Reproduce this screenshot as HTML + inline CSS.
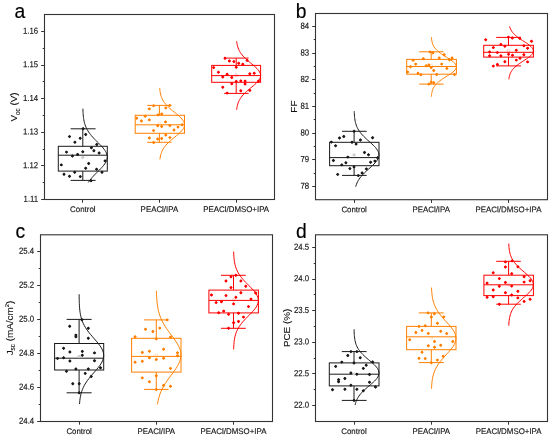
<!DOCTYPE html><html><head><meta charset="utf-8"><style>html,body{margin:0;padding:0;background:#fff;}svg{display:block;filter:blur(0.3px);}text{font-family:"Liberation Sans",Arial,sans-serif;}.t{stroke:#111;stroke-width:0.12px;}</style></head><body>
<svg width="550" height="439" viewBox="0 0 550 439">
<rect width="550" height="439" fill="#fff"/>
<g><text x="14.4" y="18.2" font-size="19.3" fill="#000" stroke="#000" stroke-width="0.15">a</text><text transform="translate(17.3,107) rotate(-90)" text-anchor="middle" font-size="9.9" fill="#111" class="t">V<tspan font-size="6.3" dy="2.4">oc</tspan><tspan dy="-2.4"> (V)</tspan></text><line x1="41.2" y1="199.5" x2="44.5" y2="199.5" stroke="#333333" stroke-width="1"/><text transform="translate(38.2,201.75) rotate(0.05) scale(1,1.12)" font-size="7.8" text-anchor="end" fill="#111" class="t">1.11</text><line x1="41.2" y1="165.5" x2="44.5" y2="165.5" stroke="#333333" stroke-width="1"/><text transform="translate(38.2,168.15) rotate(0.05) scale(1,1.12)" font-size="7.8" text-anchor="end" fill="#111" class="t">1.12</text><line x1="41.2" y1="132.5" x2="44.5" y2="132.5" stroke="#333333" stroke-width="1"/><text transform="translate(38.2,134.55) rotate(0.05) scale(1,1.12)" font-size="7.8" text-anchor="end" fill="#111" class="t">1.13</text><line x1="41.2" y1="98.5" x2="44.5" y2="98.5" stroke="#333333" stroke-width="1"/><text transform="translate(38.2,100.95) rotate(0.05) scale(1,1.12)" font-size="7.8" text-anchor="end" fill="#111" class="t">1.14</text><line x1="41.2" y1="65.5" x2="44.5" y2="65.5" stroke="#333333" stroke-width="1"/><text transform="translate(38.2,67.35) rotate(0.05) scale(1,1.12)" font-size="7.8" text-anchor="end" fill="#111" class="t">1.15</text><line x1="41.2" y1="31.5" x2="44.5" y2="31.5" stroke="#333333" stroke-width="1"/><text transform="translate(38.2,33.75) rotate(0.05) scale(1,1.12)" font-size="7.8" text-anchor="end" fill="#111" class="t">1.16</text><line x1="42.7" y1="182.5" x2="44.5" y2="182.5" stroke="#333333" stroke-width="1"/><line x1="42.7" y1="149.5" x2="44.5" y2="149.5" stroke="#333333" stroke-width="1"/><line x1="42.7" y1="115.5" x2="44.5" y2="115.5" stroke="#333333" stroke-width="1"/><line x1="42.7" y1="81.5" x2="44.5" y2="81.5" stroke="#333333" stroke-width="1"/><line x1="42.7" y1="48.5" x2="44.5" y2="48.5" stroke="#333333" stroke-width="1"/><line x1="82.5" y1="199.5" x2="82.5" y2="202.7" stroke="#333333" stroke-width="1"/><text transform="translate(82.8,212) rotate(0.05) scale(1,1.04)" font-size="7.9" text-anchor="middle" fill="#111" class="t">Control</text><line x1="159.5" y1="199.5" x2="159.5" y2="202.7" stroke="#333333" stroke-width="1"/><text transform="translate(159.4,212) rotate(0.05) scale(1,1.04)" font-size="7.9" text-anchor="middle" fill="#111" class="t">PEACl/IPA</text><line x1="236.5" y1="199.5" x2="236.5" y2="202.7" stroke="#333333" stroke-width="1"/><text transform="translate(236.2,212) rotate(0.05) scale(1,1.04)" font-size="7.9" text-anchor="middle" fill="#111" class="t">PEACl/DMSO+IPA</text><rect x="58.3" y="146.3" width="49" height="24.8" fill="none" stroke="#1a1a1a" stroke-width="1.0"/><line x1="58.3" y1="155.2" x2="107.3" y2="155.2" stroke="#1a1a1a" stroke-width="1.0"/><line x1="82.8" y1="128.8" x2="82.8" y2="146.3" stroke="#1a1a1a" stroke-width="1.0"/><line x1="82.8" y1="171.1" x2="82.8" y2="180.4" stroke="#1a1a1a" stroke-width="1.0"/><line x1="70.6" y1="128.8" x2="95.6" y2="128.8" stroke="#1a1a1a" stroke-width="1.0"/><line x1="70.6" y1="180.4" x2="95.6" y2="180.4" stroke="#1a1a1a" stroke-width="1.0"/><circle cx="82.8" cy="157.4" r="1.6" fill="#cfcfcf"/><polyline points="82.92,108.7 82.95,109.93 83,111.16 83.05,112.39 83.12,113.61 83.21,114.84 83.32,116.07 83.45,117.3 83.62,118.53 83.81,119.76 84.04,120.98 84.32,122.21 84.64,123.44 85.02,124.67 85.45,125.9 85.95,127.12 86.52,128.35 87.15,129.58 87.86,130.81 88.65,132.04 89.51,133.27 90.45,134.5 91.46,135.72 92.53,136.95 93.66,138.18 94.83,139.41 96.04,140.64 97.27,141.87 98.51,143.09 99.73,144.32 100.93,145.55 102.07,146.78 103.14,148.01 104.13,149.24 105.01,150.46 105.76,151.69 106.38,152.92 106.85,154.15 107.15,155.38 107.29,156.61 107.26,157.83 107.06,159.06 106.7,160.29 106.18,161.52 105.51,162.75 104.71,163.97 103.79,165.2 102.77,166.43 101.67,167.66 100.51,168.89 99.3,170.12 98.07,171.34 96.83,172.57 95.61,173.8 94.41,175.03 93.25,176.26 92.14,177.49 91.09,178.72 90.11,179.94 89.2,181.17 88.36,182.4" fill="none" stroke="#1a1a1a" stroke-width="1"/><path d="M83.1 127L84.8 128.7L83.1 130.4L81.4 128.7Z" fill="#1a1a1a"/><circle cx="83.1" cy="128.7" r="1.15" fill="#1a1a1a"/><path d="M85.7 132.8L87.4 134.5L85.7 136.2L84 134.5Z" fill="#1a1a1a"/><circle cx="85.7" cy="134.5" r="1.15" fill="#1a1a1a"/><path d="M69.5 134.9L71.2 136.6L69.5 138.3L67.8 136.6Z" fill="#1a1a1a"/><circle cx="69.5" cy="136.6" r="1.15" fill="#1a1a1a"/><path d="M80.2 136.6L81.9 138.3L80.2 140L78.5 138.3Z" fill="#1a1a1a"/><circle cx="80.2" cy="138.3" r="1.15" fill="#1a1a1a"/><path d="M74.9 140.5L76.6 142.2L74.9 143.9L73.2 142.2Z" fill="#1a1a1a"/><circle cx="74.9" cy="142.2" r="1.15" fill="#1a1a1a"/><path d="M96.8 142.8L98.5 144.5L96.8 146.2L95.1 144.5Z" fill="#1a1a1a"/><circle cx="96.8" cy="144.5" r="1.15" fill="#1a1a1a"/><path d="M91.4 146.1L93.1 147.8L91.4 149.5L89.7 147.8Z" fill="#1a1a1a"/><circle cx="91.4" cy="147.8" r="1.15" fill="#1a1a1a"/><path d="M93.9 149L95.6 150.7L93.9 152.4L92.2 150.7Z" fill="#1a1a1a"/><circle cx="93.9" cy="150.7" r="1.15" fill="#1a1a1a"/><path d="M66.5 150.4L68.2 152.1L66.5 153.8L64.8 152.1Z" fill="#1a1a1a"/><circle cx="66.5" cy="152.1" r="1.15" fill="#1a1a1a"/><path d="M82.8 150.1L84.5 151.8L82.8 153.5L81.1 151.8Z" fill="#1a1a1a"/><circle cx="82.8" cy="151.8" r="1.15" fill="#1a1a1a"/><path d="M99.1 151.3L100.8 153L99.1 154.7L97.4 153Z" fill="#1a1a1a"/><circle cx="99.1" cy="153" r="1.15" fill="#1a1a1a"/><path d="M72.4 154.3L74.1 156L72.4 157.7L70.7 156Z" fill="#1a1a1a"/><circle cx="72.4" cy="156" r="1.15" fill="#1a1a1a"/><path d="M77.6 152.8L79.3 154.5L77.6 156.2L75.9 154.5Z" fill="#1a1a1a"/><circle cx="77.6" cy="154.5" r="1.15" fill="#1a1a1a"/><path d="M105 159.2L106.7 160.9L105 162.6L103.3 160.9Z" fill="#1a1a1a"/><circle cx="105" cy="160.9" r="1.15" fill="#1a1a1a"/><path d="M61.3 163.2L63 164.9L61.3 166.6L59.6 164.9Z" fill="#1a1a1a"/><circle cx="61.3" cy="164.9" r="1.15" fill="#1a1a1a"/><path d="M88.7 161.8L90.4 163.5L88.7 165.2L87 163.5Z" fill="#1a1a1a"/><circle cx="88.7" cy="163.5" r="1.15" fill="#1a1a1a"/><path d="M85.7 166.5L87.4 168.2L85.7 169.9L84 168.2Z" fill="#1a1a1a"/><circle cx="85.7" cy="168.2" r="1.15" fill="#1a1a1a"/><path d="M96.6 167.6L98.3 169.3L96.6 171L94.9 169.3Z" fill="#1a1a1a"/><circle cx="96.6" cy="169.3" r="1.15" fill="#1a1a1a"/><path d="M74.7 170.6L76.4 172.3L74.7 174L73 172.3Z" fill="#1a1a1a"/><circle cx="74.7" cy="172.3" r="1.15" fill="#1a1a1a"/><path d="M102 170.6L103.7 172.3L102 174L100.3 172.3Z" fill="#1a1a1a"/><circle cx="102" cy="172.3" r="1.15" fill="#1a1a1a"/><path d="M64 172.6L65.7 174.3L64 176L62.3 174.3Z" fill="#1a1a1a"/><circle cx="64" cy="174.3" r="1.15" fill="#1a1a1a"/><path d="M69.5 174.6L71.2 176.3L69.5 178L67.8 176.3Z" fill="#1a1a1a"/><circle cx="69.5" cy="176.3" r="1.15" fill="#1a1a1a"/><path d="M80.3 174.9L82 176.6L80.3 178.3L78.6 176.6Z" fill="#1a1a1a"/><circle cx="80.3" cy="176.6" r="1.15" fill="#1a1a1a"/><path d="M91 179L92.7 180.7L91 182.4L89.3 180.7Z" fill="#1a1a1a"/><circle cx="91" cy="180.7" r="1.15" fill="#1a1a1a"/><rect x="135.2" y="115.3" width="49.3" height="18" fill="none" stroke="#ff8000" stroke-width="1.0"/><line x1="135.2" y1="124.8" x2="184.5" y2="124.8" stroke="#ff8000" stroke-width="1.0"/><line x1="159.4" y1="105.4" x2="159.4" y2="115.3" stroke="#ff8000" stroke-width="1.0"/><line x1="159.4" y1="133.3" x2="159.4" y2="142.3" stroke="#ff8000" stroke-width="1.0"/><line x1="147.2" y1="105.4" x2="171.5" y2="105.4" stroke="#ff8000" stroke-width="1.0"/><line x1="147.2" y1="142.3" x2="171.5" y2="142.3" stroke="#ff8000" stroke-width="1.0"/><circle cx="159.4" cy="123.6" r="1.4" fill="none" stroke="#ff8000" stroke-width="0.6" opacity="0.35"/><polyline points="159.71,88.1 159.82,89.29 159.94,90.48 160.11,91.67 160.31,92.86 160.56,94.05 160.86,95.24 161.23,96.43 161.67,97.62 162.19,98.81 162.8,100 163.5,101.19 164.3,102.38 165.2,103.57 166.2,104.76 167.3,105.95 168.5,107.14 169.79,108.33 171.15,109.52 172.56,110.71 174.01,111.9 175.47,113.09 176.91,114.28 178.31,115.47 179.63,116.66 180.85,117.85 181.93,119.04 182.85,120.23 183.58,121.42 184.11,122.61 184.42,123.8 184.5,124.99 184.35,126.18 183.97,127.37 183.37,128.56 182.58,129.75 181.6,130.94 180.48,132.13 179.22,133.32 177.87,134.51 176.46,135.7 175,136.89 173.55,138.08 172.11,139.27 170.71,140.46 169.37,141.65 168.11,142.84 166.94,144.03 165.87,145.22 164.9,146.41 164.03,147.6 163.26,148.79 162.59,149.98 162.02,151.17 161.52,152.36 161.11,153.55 160.76,154.74 160.47,155.93 160.24,157.12 160.05,158.31 159.9,159.5" fill="none" stroke="#ff8000" stroke-width="1"/><path d="M153.6 104.1L155.3 105.8L153.6 107.5L151.9 105.8Z" fill="#ff8000"/><circle cx="153.6" cy="105.8" r="1.15" fill="#ff8000"/><path d="M169.7 103.7L171.4 105.4L169.7 107.1L168 105.4Z" fill="#ff8000"/><circle cx="169.7" cy="105.4" r="1.15" fill="#ff8000"/><path d="M149.3 107.2L151 108.9L149.3 110.6L147.6 108.9Z" fill="#ff8000"/><circle cx="149.3" cy="108.9" r="1.15" fill="#ff8000"/><path d="M165.8 106.2L167.5 107.9L165.8 109.6L164.1 107.9Z" fill="#ff8000"/><circle cx="165.8" cy="107.9" r="1.15" fill="#ff8000"/><path d="M158 113.2L159.7 114.9L158 116.6L156.3 114.9Z" fill="#ff8000"/><circle cx="158" cy="114.9" r="1.15" fill="#ff8000"/><path d="M161.7 112.3L163.4 114L161.7 115.7L160 114Z" fill="#ff8000"/><circle cx="161.7" cy="114" r="1.15" fill="#ff8000"/><path d="M145.2 114.6L146.9 116.3L145.2 118L143.5 116.3Z" fill="#ff8000"/><circle cx="145.2" cy="116.3" r="1.15" fill="#ff8000"/><path d="M136.7 116.5L138.4 118.2L136.7 119.9L135 118.2Z" fill="#ff8000"/><circle cx="136.7" cy="118.2" r="1.15" fill="#ff8000"/><path d="M141.4 119.3L143.1 121L141.4 122.7L139.7 121Z" fill="#ff8000"/><circle cx="141.4" cy="121" r="1.15" fill="#ff8000"/><path d="M149.3 118.2L151 119.9L149.3 121.6L147.6 119.9Z" fill="#ff8000"/><circle cx="149.3" cy="119.9" r="1.15" fill="#ff8000"/><path d="M165.5 120.2L167.2 121.9L165.5 123.6L163.8 121.9Z" fill="#ff8000"/><circle cx="165.5" cy="121.9" r="1.15" fill="#ff8000"/><path d="M157.7 124L159.4 125.7L157.7 127.4L156 125.7Z" fill="#ff8000"/><circle cx="157.7" cy="125.7" r="1.15" fill="#ff8000"/><path d="M161.7 124.8L163.4 126.5L161.7 128.2L160 126.5Z" fill="#ff8000"/><circle cx="161.7" cy="126.5" r="1.15" fill="#ff8000"/><path d="M169.9 123.9L171.6 125.6L169.9 127.3L168.2 125.6Z" fill="#ff8000"/><circle cx="169.9" cy="125.6" r="1.15" fill="#ff8000"/><path d="M182.1 123.1L183.8 124.8L182.1 126.5L180.4 124.8Z" fill="#ff8000"/><circle cx="182.1" cy="124.8" r="1.15" fill="#ff8000"/><path d="M178 125.4L179.7 127.1L178 128.8L176.3 127.1Z" fill="#ff8000"/><circle cx="178" cy="127.1" r="1.15" fill="#ff8000"/><path d="M153.6 128.9L155.3 130.6L153.6 132.3L151.9 130.6Z" fill="#ff8000"/><circle cx="153.6" cy="130.6" r="1.15" fill="#ff8000"/><path d="M174 128.3L175.7 130L174 131.7L172.3 130Z" fill="#ff8000"/><circle cx="174" cy="130" r="1.15" fill="#ff8000"/><path d="M165.8 133.3L167.5 135L165.8 136.7L164.1 135Z" fill="#ff8000"/><circle cx="165.8" cy="135" r="1.15" fill="#ff8000"/><path d="M149.3 136.3L151 138L149.3 139.7L147.6 138Z" fill="#ff8000"/><circle cx="149.3" cy="138" r="1.15" fill="#ff8000"/><path d="M157.7 137.3L159.4 139L157.7 140.7L156 139Z" fill="#ff8000"/><circle cx="157.7" cy="139" r="1.15" fill="#ff8000"/><path d="M161.7 136.8L163.4 138.5L161.7 140.2L160 138.5Z" fill="#ff8000"/><circle cx="161.7" cy="138.5" r="1.15" fill="#ff8000"/><path d="M169.9 135.9L171.6 137.6L169.9 139.3L168.2 137.6Z" fill="#ff8000"/><circle cx="169.9" cy="137.6" r="1.15" fill="#ff8000"/><path d="M153.6 140.8L155.3 142.5L153.6 144.2L151.9 142.5Z" fill="#ff8000"/><circle cx="153.6" cy="142.5" r="1.15" fill="#ff8000"/><rect x="211.7" y="65.4" width="48.9" height="16.9" fill="none" stroke="#ff0000" stroke-width="1.0"/><line x1="211.7" y1="75.6" x2="260.6" y2="75.6" stroke="#ff0000" stroke-width="1.0"/><line x1="236.2" y1="58.1" x2="236.2" y2="65.4" stroke="#ff0000" stroke-width="1.0"/><line x1="236.2" y1="82.3" x2="236.2" y2="93.4" stroke="#ff0000" stroke-width="1.0"/><line x1="224.2" y1="58.1" x2="248.6" y2="58.1" stroke="#ff0000" stroke-width="1.0"/><line x1="224.2" y1="93.4" x2="248.6" y2="93.4" stroke="#ff0000" stroke-width="1.0"/><circle cx="236.2" cy="75.2" r="1.4" fill="none" stroke="#ff0000" stroke-width="0.6" opacity="0.35"/><polyline points="236.67,41.2 236.81,42.34 236.98,43.49 237.19,44.63 237.45,45.77 237.77,46.92 238.14,48.06 238.59,49.2 239.11,50.35 239.72,51.49 240.41,52.63 241.2,53.78 242.08,54.92 243.06,56.06 244.13,57.21 245.28,58.35 246.52,59.49 247.82,60.64 249.16,61.78 250.54,62.92 251.93,64.07 253.3,65.21 254.62,66.35 255.88,67.5 257.03,68.64 258.06,69.78 258.94,70.93 259.65,72.07 260.18,73.21 260.49,74.36 260.6,75.5 260.49,76.64 260.18,77.79 259.65,78.93 258.94,80.07 258.06,81.22 257.03,82.36 255.88,83.5 254.62,84.65 253.3,85.79 251.93,86.93 250.54,88.08 249.16,89.22 247.82,90.36 246.52,91.51 245.28,92.65 244.13,93.79 243.06,94.94 242.08,96.08 241.2,97.22 240.41,98.37 239.72,99.51 239.11,100.65 238.59,101.8 238.14,102.94 237.77,104.08 237.45,105.23 237.19,106.37 236.98,107.51 236.81,108.66 236.67,109.8" fill="none" stroke="#ff0000" stroke-width="1"/><path d="M225 56.6L226.7 58.3L225 60L223.3 58.3Z" fill="#ff0000"/><circle cx="225" cy="58.3" r="1.15" fill="#ff0000"/><path d="M229.4 59.3L231.1 61L229.4 62.7L227.7 61Z" fill="#ff0000"/><circle cx="229.4" cy="61" r="1.15" fill="#ff0000"/><path d="M233.9 59.9L235.6 61.6L233.9 63.3L232.2 61.6Z" fill="#ff0000"/><circle cx="233.9" cy="61.6" r="1.15" fill="#ff0000"/><path d="M238.7 61.6L240.4 63.3L238.7 65L237 63.3Z" fill="#ff0000"/><circle cx="238.7" cy="63.3" r="1.15" fill="#ff0000"/><path d="M242.8 62.5L244.5 64.2L242.8 65.9L241.1 64.2Z" fill="#ff0000"/><circle cx="242.8" cy="64.2" r="1.15" fill="#ff0000"/><path d="M247.1 58.7L248.8 60.4L247.1 62.1L245.4 60.4Z" fill="#ff0000"/><circle cx="247.1" cy="60.4" r="1.15" fill="#ff0000"/><path d="M236.2 65.5L237.9 67.2L236.2 68.9L234.5 67.2Z" fill="#ff0000"/><circle cx="236.2" cy="67.2" r="1.15" fill="#ff0000"/><path d="M213.7 65.9L215.4 67.6L213.7 69.3L212 67.6Z" fill="#ff0000"/><circle cx="213.7" cy="67.6" r="1.15" fill="#ff0000"/><path d="M218.4 70.6L220.1 72.3L218.4 74L216.7 72.3Z" fill="#ff0000"/><circle cx="218.4" cy="72.3" r="1.15" fill="#ff0000"/><path d="M227.1 72.5L228.8 74.2L227.1 75.9L225.4 74.2Z" fill="#ff0000"/><circle cx="227.1" cy="74.2" r="1.15" fill="#ff0000"/><path d="M249.8 72.1L251.5 73.8L249.8 75.5L248.1 73.8Z" fill="#ff0000"/><circle cx="249.8" cy="73.8" r="1.15" fill="#ff0000"/><path d="M254.2 71.5L255.9 73.2L254.2 74.9L252.5 73.2Z" fill="#ff0000"/><circle cx="254.2" cy="73.2" r="1.15" fill="#ff0000"/><path d="M222.8 75.3L224.5 77L222.8 78.7L221.1 77Z" fill="#ff0000"/><circle cx="222.8" cy="77" r="1.15" fill="#ff0000"/><path d="M231.8 75.8L233.5 77.5L231.8 79.2L230.1 77.5Z" fill="#ff0000"/><circle cx="231.8" cy="77.5" r="1.15" fill="#ff0000"/><path d="M236.2 79.8L237.9 81.5L236.2 83.2L234.5 81.5Z" fill="#ff0000"/><circle cx="236.2" cy="81.5" r="1.15" fill="#ff0000"/><path d="M240.8 79.2L242.5 80.9L240.8 82.6L239.1 80.9Z" fill="#ff0000"/><circle cx="240.8" cy="80.9" r="1.15" fill="#ff0000"/><path d="M245.1 79.4L246.8 81.1L245.1 82.8L243.4 81.1Z" fill="#ff0000"/><circle cx="245.1" cy="81.1" r="1.15" fill="#ff0000"/><path d="M245.1 82.3L246.8 84L245.1 85.7L243.4 84Z" fill="#ff0000"/><circle cx="245.1" cy="84" r="1.15" fill="#ff0000"/><path d="M258.5 79.4L260.2 81.1L258.5 82.8L256.8 81.1Z" fill="#ff0000"/><circle cx="258.5" cy="81.1" r="1.15" fill="#ff0000"/><path d="M231.8 82L233.5 83.7L231.8 85.4L230.1 83.7Z" fill="#ff0000"/><circle cx="231.8" cy="83.7" r="1.15" fill="#ff0000"/><path d="M222.8 85.5L224.5 87.2L222.8 88.9L221.1 87.2Z" fill="#ff0000"/><circle cx="222.8" cy="87.2" r="1.15" fill="#ff0000"/><path d="M240.8 89.1L242.5 90.8L240.8 92.5L239.1 90.8Z" fill="#ff0000"/><circle cx="240.8" cy="90.8" r="1.15" fill="#ff0000"/><path d="M249.8 88.7L251.5 90.4L249.8 92.1L248.1 90.4Z" fill="#ff0000"/><circle cx="249.8" cy="90.4" r="1.15" fill="#ff0000"/><path d="M227.1 91.4L228.8 93.1L227.1 94.8L225.4 93.1Z" fill="#ff0000"/><circle cx="227.1" cy="93.1" r="1.15" fill="#ff0000"/><rect x="44.5" y="14.5" width="230" height="185" fill="none" stroke="#333333" stroke-width="1.1"/></g>
<g><text x="295.7" y="17.8" font-size="19.3" fill="#000" stroke="#000" stroke-width="0.15">b</text><text transform="translate(296.5,106.6) rotate(-90)" text-anchor="middle" font-size="9.9" fill="#111" class="t">FF</text><line x1="312.2" y1="186.5" x2="315.5" y2="186.5" stroke="#333333" stroke-width="1"/><text transform="translate(309.2,188.75) rotate(0.05) scale(1,1.12)" font-size="7.8" text-anchor="end" fill="#111" class="t">78</text><line x1="312.2" y1="159.5" x2="315.5" y2="159.5" stroke="#333333" stroke-width="1"/><text transform="translate(309.2,162.08) rotate(0.05) scale(1,1.12)" font-size="7.8" text-anchor="end" fill="#111" class="t">79</text><line x1="312.2" y1="133.5" x2="315.5" y2="133.5" stroke="#333333" stroke-width="1"/><text transform="translate(309.2,135.42) rotate(0.05) scale(1,1.12)" font-size="7.8" text-anchor="end" fill="#111" class="t">80</text><line x1="312.2" y1="106.5" x2="315.5" y2="106.5" stroke="#333333" stroke-width="1"/><text transform="translate(309.2,108.75) rotate(0.05) scale(1,1.12)" font-size="7.8" text-anchor="end" fill="#111" class="t">81</text><line x1="312.2" y1="79.5" x2="315.5" y2="79.5" stroke="#333333" stroke-width="1"/><text transform="translate(309.2,82.08) rotate(0.05) scale(1,1.12)" font-size="7.8" text-anchor="end" fill="#111" class="t">82</text><line x1="312.2" y1="53.5" x2="315.5" y2="53.5" stroke="#333333" stroke-width="1"/><text transform="translate(309.2,55.42) rotate(0.05) scale(1,1.12)" font-size="7.8" text-anchor="end" fill="#111" class="t">83</text><line x1="312.2" y1="26.5" x2="315.5" y2="26.5" stroke="#333333" stroke-width="1"/><text transform="translate(309.2,28.75) rotate(0.05) scale(1,1.12)" font-size="7.8" text-anchor="end" fill="#111" class="t">84</text><line x1="313.7" y1="173.5" x2="315.5" y2="173.5" stroke="#333333" stroke-width="1"/><line x1="313.7" y1="146.5" x2="315.5" y2="146.5" stroke="#333333" stroke-width="1"/><line x1="313.7" y1="119.5" x2="315.5" y2="119.5" stroke="#333333" stroke-width="1"/><line x1="313.7" y1="93.5" x2="315.5" y2="93.5" stroke="#333333" stroke-width="1"/><line x1="313.7" y1="66.5" x2="315.5" y2="66.5" stroke="#333333" stroke-width="1"/><line x1="313.7" y1="39.5" x2="315.5" y2="39.5" stroke="#333333" stroke-width="1"/><line x1="354.5" y1="199.7" x2="354.5" y2="202.9" stroke="#333333" stroke-width="1"/><text transform="translate(354.1,212.2) rotate(0.05) scale(1,1.04)" font-size="7.9" text-anchor="middle" fill="#111" class="t">Control</text><line x1="431.5" y1="199.7" x2="431.5" y2="202.9" stroke="#333333" stroke-width="1"/><text transform="translate(431.2,212.2) rotate(0.05) scale(1,1.04)" font-size="7.9" text-anchor="middle" fill="#111" class="t">PEACl/IPA</text><line x1="508.5" y1="199.7" x2="508.5" y2="202.9" stroke="#333333" stroke-width="1"/><text transform="translate(508.5,212.2) rotate(0.05) scale(1,1.04)" font-size="7.9" text-anchor="middle" fill="#111" class="t">PEACl/DMSO+IPA</text><rect x="329.6" y="142.3" width="49.4" height="23.4" fill="none" stroke="#1a1a1a" stroke-width="1.0"/><line x1="329.6" y1="157.6" x2="379" y2="157.6" stroke="#1a1a1a" stroke-width="1.0"/><line x1="354.1" y1="131.3" x2="354.1" y2="142.3" stroke="#1a1a1a" stroke-width="1.0"/><line x1="354.1" y1="165.7" x2="354.1" y2="175.4" stroke="#1a1a1a" stroke-width="1.0"/><line x1="342" y1="131.3" x2="366.7" y2="131.3" stroke="#1a1a1a" stroke-width="1.0"/><line x1="342" y1="175.4" x2="366.7" y2="175.4" stroke="#1a1a1a" stroke-width="1.0"/><circle cx="354.1" cy="154.9" r="1.6" fill="#cfcfcf"/><polyline points="354.23,111.2 354.27,112.46 354.33,113.72 354.41,114.98 354.5,116.23 354.62,117.49 354.78,118.75 354.97,120.01 355.2,121.27 355.48,122.53 355.82,123.78 356.22,125.04 356.7,126.3 357.25,127.56 357.9,128.82 358.63,130.07 359.46,131.33 360.38,132.59 361.4,133.85 362.51,135.11 363.71,136.37 364.98,137.62 366.31,138.88 367.69,140.14 369.09,141.4 370.5,142.66 371.88,143.92 373.21,145.18 374.46,146.43 375.61,147.69 376.62,148.95 377.48,150.21 378.16,151.47 378.65,152.72 378.93,153.98 379,155.24 378.85,156.5 378.49,157.76 377.92,159.02 377.17,160.28 376.25,161.53 375.18,162.79 373.99,164.05 372.7,165.31 371.35,166.57 369.96,167.82 368.55,169.08 367.15,170.34 365.79,171.6 364.48,172.86 363.24,174.12 362.07,175.38 361,176.63 360.01,177.89 359.13,179.15 358.34,180.41 357.64,181.67 357.03,182.92 356.51,184.18 356.06,185.44 355.68,186.7" fill="none" stroke="#1a1a1a" stroke-width="1"/><path d="M354.1 129.6L355.8 131.3L354.1 133L352.4 131.3Z" fill="#1a1a1a"/><circle cx="354.1" cy="131.3" r="1.15" fill="#1a1a1a"/><path d="M339.5 136.3L341.2 138L339.5 139.7L337.8 138Z" fill="#1a1a1a"/><circle cx="339.5" cy="138" r="1.15" fill="#1a1a1a"/><path d="M343.8 134.8L345.5 136.5L343.8 138.2L342.1 136.5Z" fill="#1a1a1a"/><circle cx="343.8" cy="136.5" r="1.15" fill="#1a1a1a"/><path d="M372.6 136L374.3 137.7L372.6 139.4L370.9 137.7Z" fill="#1a1a1a"/><circle cx="372.6" cy="137.7" r="1.15" fill="#1a1a1a"/><path d="M360.4 138.3L362.1 140L360.4 141.7L358.7 140Z" fill="#1a1a1a"/><circle cx="360.4" cy="140" r="1.15" fill="#1a1a1a"/><path d="M331.3 140.4L333 142.1L331.3 143.8L329.6 142.1Z" fill="#1a1a1a"/><circle cx="331.3" cy="142.1" r="1.15" fill="#1a1a1a"/><path d="M352 140.6L353.7 142.3L352 144L350.3 142.3Z" fill="#1a1a1a"/><circle cx="352" cy="142.3" r="1.15" fill="#1a1a1a"/><path d="M356.1 142.4L357.8 144.1L356.1 145.8L354.4 144.1Z" fill="#1a1a1a"/><circle cx="356.1" cy="144.1" r="1.15" fill="#1a1a1a"/><path d="M335.6 144.1L337.3 145.8L335.6 147.5L333.9 145.8Z" fill="#1a1a1a"/><circle cx="335.6" cy="145.8" r="1.15" fill="#1a1a1a"/><path d="M364.5 150.8L366.2 152.5L364.5 154.2L362.8 152.5Z" fill="#1a1a1a"/><circle cx="364.5" cy="152.5" r="1.15" fill="#1a1a1a"/><path d="M368.5 153.1L370.2 154.8L368.5 156.5L366.8 154.8Z" fill="#1a1a1a"/><circle cx="368.5" cy="154.8" r="1.15" fill="#1a1a1a"/><path d="M347.8 155.4L349.5 157.1L347.8 158.8L346.1 157.1Z" fill="#1a1a1a"/><circle cx="347.8" cy="157.1" r="1.15" fill="#1a1a1a"/><path d="M377.6 156.1L379.3 157.8L377.6 159.5L375.9 157.8Z" fill="#1a1a1a"/><circle cx="377.6" cy="157.8" r="1.15" fill="#1a1a1a"/><path d="M333.4 158.8L335.1 160.5L333.4 162.2L331.7 160.5Z" fill="#1a1a1a"/><circle cx="333.4" cy="160.5" r="1.15" fill="#1a1a1a"/><path d="M345.9 161.1L347.6 162.8L345.9 164.5L344.2 162.8Z" fill="#1a1a1a"/><circle cx="345.9" cy="162.8" r="1.15" fill="#1a1a1a"/><path d="M370.6 160.5L372.3 162.2L370.6 163.9L368.9 162.2Z" fill="#1a1a1a"/><circle cx="370.6" cy="162.2" r="1.15" fill="#1a1a1a"/><path d="M374.9 159.4L376.6 161.1L374.9 162.8L373.2 161.1Z" fill="#1a1a1a"/><circle cx="374.9" cy="161.1" r="1.15" fill="#1a1a1a"/><path d="M341.8 163.2L343.5 164.9L341.8 166.6L340.1 164.9Z" fill="#1a1a1a"/><circle cx="341.8" cy="164.9" r="1.15" fill="#1a1a1a"/><path d="M354 165.2L355.7 166.9L354 168.6L352.3 166.9Z" fill="#1a1a1a"/><circle cx="354" cy="166.9" r="1.15" fill="#1a1a1a"/><path d="M349.9 166.9L351.6 168.6L349.9 170.3L348.2 168.6Z" fill="#1a1a1a"/><circle cx="349.9" cy="168.6" r="1.15" fill="#1a1a1a"/><path d="M366.4 167.2L368.1 168.9L366.4 170.6L364.7 168.9Z" fill="#1a1a1a"/><circle cx="366.4" cy="168.9" r="1.15" fill="#1a1a1a"/><path d="M337.7 172.7L339.4 174.4L337.7 176.1L336 174.4Z" fill="#1a1a1a"/><circle cx="337.7" cy="174.4" r="1.15" fill="#1a1a1a"/><path d="M362.1 171.3L363.8 173L362.1 174.7L360.4 173Z" fill="#1a1a1a"/><circle cx="362.1" cy="173" r="1.15" fill="#1a1a1a"/><path d="M358.3 173.9L360 175.6L358.3 177.3L356.6 175.6Z" fill="#1a1a1a"/><circle cx="358.3" cy="175.6" r="1.15" fill="#1a1a1a"/><rect x="406.7" y="59.4" width="49.7" height="14.8" fill="none" stroke="#ff8000" stroke-width="1.0"/><line x1="406.7" y1="66.5" x2="456.4" y2="66.5" stroke="#ff8000" stroke-width="1.0"/><line x1="431.2" y1="51.8" x2="431.2" y2="59.4" stroke="#ff8000" stroke-width="1.0"/><line x1="431.2" y1="74.2" x2="431.2" y2="84.1" stroke="#ff8000" stroke-width="1.0"/><line x1="419.2" y1="51.8" x2="443.6" y2="51.8" stroke="#ff8000" stroke-width="1.0"/><line x1="419.2" y1="84.1" x2="443.6" y2="84.1" stroke="#ff8000" stroke-width="1.0"/><circle cx="431.2" cy="65.5" r="1.4" fill="none" stroke="#ff8000" stroke-width="0.6" opacity="0.35"/><polyline points="431.42,37.2 431.5,38.19 431.6,39.18 431.74,40.18 431.91,41.17 432.13,42.16 432.41,43.15 432.75,44.14 433.17,45.13 433.68,46.12 434.28,47.12 434.99,48.11 435.8,49.1 436.74,50.09 437.8,51.08 438.97,52.08 440.26,53.07 441.64,54.06 443.12,55.05 444.65,56.04 446.22,57.03 447.79,58.03 449.34,59.02 450.82,60.01 452.2,61 453.43,61.99 454.49,62.98 455.33,63.98 455.94,64.97 456.3,65.96 456.4,66.95 456.22,67.94 455.79,68.93 455.1,69.93 454.19,70.92 453.07,71.91 451.79,72.9 450.38,73.89 448.88,74.88 447.32,75.88 445.74,76.87 444.18,77.86 442.66,78.85 441.21,79.84 439.86,80.83 438.6,81.83 437.47,82.82 436.45,83.81 435.55,84.8 434.76,85.79 434.09,86.78 433.52,87.78 433.04,88.77 432.64,89.76 432.32,90.75 432.06,91.74 431.86,92.73 431.69,93.72 431.57,94.72 431.47,95.71 431.4,96.7" fill="none" stroke="#ff8000" stroke-width="1"/><path d="M430 50.2L431.7 51.9L430 53.6L428.3 51.9Z" fill="#ff8000"/><circle cx="430" cy="51.9" r="1.15" fill="#ff8000"/><path d="M432.9 51L434.6 52.7L432.9 54.4L431.2 52.7Z" fill="#ff8000"/><circle cx="432.9" cy="52.7" r="1.15" fill="#ff8000"/><path d="M444.2 53L445.9 54.7L444.2 56.4L442.5 54.7Z" fill="#ff8000"/><circle cx="444.2" cy="54.7" r="1.15" fill="#ff8000"/><path d="M439.2 56.2L440.9 57.9L439.2 59.6L437.5 57.9Z" fill="#ff8000"/><circle cx="439.2" cy="57.9" r="1.15" fill="#ff8000"/><path d="M452.1 56.2L453.8 57.9L452.1 59.6L450.4 57.9Z" fill="#ff8000"/><circle cx="452.1" cy="57.9" r="1.15" fill="#ff8000"/><path d="M423.3 57L425 58.7L423.3 60.4L421.6 58.7Z" fill="#ff8000"/><circle cx="423.3" cy="58.7" r="1.15" fill="#ff8000"/><path d="M413.1 58.6L414.8 60.3L413.1 62L411.4 60.3Z" fill="#ff8000"/><circle cx="413.1" cy="60.3" r="1.15" fill="#ff8000"/><path d="M449.5 58L451.2 59.7L449.5 61.4L447.8 59.7Z" fill="#ff8000"/><circle cx="449.5" cy="59.7" r="1.15" fill="#ff8000"/><path d="M415.7 62.4L417.4 64.1L415.7 65.8L414 64.1Z" fill="#ff8000"/><circle cx="415.7" cy="64.1" r="1.15" fill="#ff8000"/><path d="M441.7 62.4L443.4 64.1L441.7 65.8L440 64.1Z" fill="#ff8000"/><circle cx="441.7" cy="64.1" r="1.15" fill="#ff8000"/><path d="M410.5 65L412.2 66.7L410.5 68.4L408.8 66.7Z" fill="#ff8000"/><circle cx="410.5" cy="66.7" r="1.15" fill="#ff8000"/><path d="M426.2 64.1L427.9 65.8L426.2 67.5L424.5 65.8Z" fill="#ff8000"/><circle cx="426.2" cy="65.8" r="1.15" fill="#ff8000"/><path d="M428.9 63.2L430.6 64.9L428.9 66.6L427.2 64.9Z" fill="#ff8000"/><circle cx="428.9" cy="64.9" r="1.15" fill="#ff8000"/><path d="M431.2 65.8L432.9 67.5L431.2 69.2L429.5 67.5Z" fill="#ff8000"/><circle cx="431.2" cy="67.5" r="1.15" fill="#ff8000"/><path d="M433.7 68.8L435.4 70.5L433.7 72.2L432 70.5Z" fill="#ff8000"/><circle cx="433.7" cy="70.5" r="1.15" fill="#ff8000"/><path d="M446.9 66.7L448.6 68.4L446.9 70.1L445.2 68.4Z" fill="#ff8000"/><circle cx="446.9" cy="68.4" r="1.15" fill="#ff8000"/><path d="M407.6 70.2L409.3 71.9L407.6 73.6L405.9 71.9Z" fill="#ff8000"/><circle cx="407.6" cy="71.9" r="1.15" fill="#ff8000"/><path d="M418 71.6L419.7 73.3L418 75L416.3 73.3Z" fill="#ff8000"/><circle cx="418" cy="73.3" r="1.15" fill="#ff8000"/><path d="M420.9 73.1L422.6 74.8L420.9 76.5L419.2 74.8Z" fill="#ff8000"/><circle cx="420.9" cy="74.8" r="1.15" fill="#ff8000"/><path d="M436.7 72.8L438.4 74.5L436.7 76.2L435 74.5Z" fill="#ff8000"/><circle cx="436.7" cy="74.5" r="1.15" fill="#ff8000"/><path d="M454.5 72.8L456.2 74.5L454.5 76.2L452.8 74.5Z" fill="#ff8000"/><circle cx="454.5" cy="74.5" r="1.15" fill="#ff8000"/><path d="M428.9 82.4L430.6 84.1L428.9 85.8L427.2 84.1Z" fill="#ff8000"/><circle cx="428.9" cy="84.1" r="1.15" fill="#ff8000"/><path d="M431.2 80.4L432.9 82.1L431.2 83.8L429.5 82.1Z" fill="#ff8000"/><circle cx="431.2" cy="82.1" r="1.15" fill="#ff8000"/><path d="M433.7 81L435.4 82.7L433.7 84.4L432 82.7Z" fill="#ff8000"/><circle cx="433.7" cy="82.7" r="1.15" fill="#ff8000"/><rect x="483.7" y="45.3" width="49.7" height="11.8" fill="none" stroke="#ff0000" stroke-width="1.0"/><line x1="483.7" y1="52.3" x2="533.4" y2="52.3" stroke="#ff0000" stroke-width="1.0"/><line x1="508.5" y1="37.4" x2="508.5" y2="45.3" stroke="#ff0000" stroke-width="1.0"/><line x1="508.5" y1="57.1" x2="508.5" y2="65.9" stroke="#ff0000" stroke-width="1.0"/><line x1="496.2" y1="37.4" x2="521" y2="37.4" stroke="#ff0000" stroke-width="1.0"/><line x1="496.2" y1="65.9" x2="521" y2="65.9" stroke="#ff0000" stroke-width="1.0"/><circle cx="508.5" cy="50.8" r="1.4" fill="none" stroke="#ff0000" stroke-width="0.6" opacity="0.35"/><polyline points="509.57,26.4 509.83,27.28 510.15,28.16 510.52,29.04 510.97,29.93 511.48,30.81 512.07,31.69 512.75,32.57 513.51,33.45 514.36,34.34 515.31,35.22 516.34,36.1 517.45,36.98 518.64,37.86 519.89,38.74 521.2,39.62 522.54,40.51 523.89,41.39 525.24,42.27 526.57,43.15 527.84,44.03 529.03,44.91 530.13,45.8 531.09,46.68 531.91,47.56 532.57,48.44 533.04,49.32 533.32,50.2 533.4,51.09 533.28,51.97 532.96,52.85 532.45,53.73 531.76,54.61 530.91,55.5 529.92,56.38 528.81,57.26 527.6,58.14 526.31,59.02 524.98,59.9 523.63,60.78 522.27,61.67 520.94,62.55 519.64,63.43 518.4,64.31 517.22,65.19 516.13,66.07 515.11,66.96 514.19,67.84 513.36,68.72 512.61,69.6 511.95,70.48 511.37,71.37 510.87,72.25 510.45,73.13 510.08,74.01 509.78,74.89 509.52,75.77 509.31,76.66 509.14,77.54 509,78.42 508.88,79.3" fill="none" stroke="#ff0000" stroke-width="1"/><path d="M485.7 38.1L487.4 39.8L485.7 41.5L484 39.8Z" fill="#ff0000"/><circle cx="485.7" cy="39.8" r="1.15" fill="#ff0000"/><path d="M508.4 35.5L510.1 37.2L508.4 38.9L506.7 37.2Z" fill="#ff0000"/><circle cx="508.4" cy="37.2" r="1.15" fill="#ff0000"/><path d="M512.3 36.3L514 38L512.3 39.7L510.6 38Z" fill="#ff0000"/><circle cx="512.3" cy="38" r="1.15" fill="#ff0000"/><path d="M519.8 36.6L521.5 38.3L519.8 40L518.1 38.3Z" fill="#ff0000"/><circle cx="519.8" cy="38.3" r="1.15" fill="#ff0000"/><path d="M531.5 39.5L533.2 41.2L531.5 42.9L529.8 41.2Z" fill="#ff0000"/><circle cx="531.5" cy="41.2" r="1.15" fill="#ff0000"/><path d="M500.9 42.7L502.6 44.4L500.9 46.1L499.2 44.4Z" fill="#ff0000"/><circle cx="500.9" cy="44.4" r="1.15" fill="#ff0000"/><path d="M504.9 44.5L506.6 46.2L504.9 47.9L503.2 46.2Z" fill="#ff0000"/><circle cx="504.9" cy="46.2" r="1.15" fill="#ff0000"/><path d="M493.3 45.9L495 47.6L493.3 49.3L491.6 47.6Z" fill="#ff0000"/><circle cx="493.3" cy="47.6" r="1.15" fill="#ff0000"/><path d="M523.9 44.1L525.6 45.8L523.9 47.5L522.2 45.8Z" fill="#ff0000"/><circle cx="523.9" cy="45.8" r="1.15" fill="#ff0000"/><path d="M527.6 46.5L529.3 48.2L527.6 49.9L525.9 48.2Z" fill="#ff0000"/><circle cx="527.6" cy="48.2" r="1.15" fill="#ff0000"/><path d="M516.3 48.6L518 50.3L516.3 52L514.6 50.3Z" fill="#ff0000"/><circle cx="516.3" cy="50.3" r="1.15" fill="#ff0000"/><path d="M489.6 50.3L491.3 52L489.6 53.7L487.9 52Z" fill="#ff0000"/><circle cx="489.6" cy="52" r="1.15" fill="#ff0000"/><path d="M497.4 50.9L499.1 52.6L497.4 54.3L495.7 52.6Z" fill="#ff0000"/><circle cx="497.4" cy="52.6" r="1.15" fill="#ff0000"/><path d="M508.6 52.6L510.3 54.3L508.6 56L506.9 54.3Z" fill="#ff0000"/><circle cx="508.6" cy="54.3" r="1.15" fill="#ff0000"/><path d="M512.5 53.6L514.2 55.3L512.5 57L510.8 55.3Z" fill="#ff0000"/><circle cx="512.5" cy="55.3" r="1.15" fill="#ff0000"/><path d="M523.9 53L525.6 54.7L523.9 56.4L522.2 54.7Z" fill="#ff0000"/><circle cx="523.9" cy="54.7" r="1.15" fill="#ff0000"/><path d="M489.6 54.1L491.3 55.8L489.6 57.5L487.9 55.8Z" fill="#ff0000"/><circle cx="489.6" cy="55.8" r="1.15" fill="#ff0000"/><path d="M500.9 54.1L502.6 55.8L500.9 57.5L499.2 55.8Z" fill="#ff0000"/><circle cx="500.9" cy="55.8" r="1.15" fill="#ff0000"/><path d="M520 56.5L521.7 58.2L520 59.9L518.3 58.2Z" fill="#ff0000"/><circle cx="520" cy="58.2" r="1.15" fill="#ff0000"/><path d="M516.3 58.4L518 60.1L516.3 61.8L514.6 60.1Z" fill="#ff0000"/><circle cx="516.3" cy="60.1" r="1.15" fill="#ff0000"/><path d="M504.9 60L506.6 61.7L504.9 63.4L503.2 61.7Z" fill="#ff0000"/><circle cx="504.9" cy="61.7" r="1.15" fill="#ff0000"/><path d="M527.6 60.2L529.3 61.9L527.6 63.6L525.9 61.9Z" fill="#ff0000"/><circle cx="527.6" cy="61.9" r="1.15" fill="#ff0000"/><path d="M493.3 64.4L495 66.1L493.3 67.8L491.6 66.1Z" fill="#ff0000"/><circle cx="493.3" cy="66.1" r="1.15" fill="#ff0000"/><path d="M497.4 62.8L499.1 64.5L497.4 66.2L495.7 64.5Z" fill="#ff0000"/><circle cx="497.4" cy="64.5" r="1.15" fill="#ff0000"/><rect x="315.5" y="13.5" width="232" height="186.2" fill="none" stroke="#333333" stroke-width="1.1"/></g>
<g><text x="15.6" y="238" font-size="19.3" fill="#000" stroke="#000" stroke-width="0.15">c</text><text transform="translate(12.8,328) rotate(-90)" text-anchor="middle" font-size="9.9" fill="#111" class="t">J<tspan font-size="6.3" dy="2.4">sc</tspan><tspan dy="-2.4"> (mA/cm</tspan><tspan font-size="6" dy="-3.8">2</tspan><tspan dy="3.8">)</tspan></text><line x1="37.2" y1="421.5" x2="40.5" y2="421.5" stroke="#333333" stroke-width="1"/><text transform="translate(34.2,423.75) rotate(0.05) scale(1,1.12)" font-size="7.8" text-anchor="end" fill="#111" class="t">24.4</text><line x1="37.2" y1="387.5" x2="40.5" y2="387.5" stroke="#333333" stroke-width="1"/><text transform="translate(34.2,389.75) rotate(0.05) scale(1,1.12)" font-size="7.8" text-anchor="end" fill="#111" class="t">24.6</text><line x1="37.2" y1="353.5" x2="40.5" y2="353.5" stroke="#333333" stroke-width="1"/><text transform="translate(34.2,355.75) rotate(0.05) scale(1,1.12)" font-size="7.8" text-anchor="end" fill="#111" class="t">24.8</text><line x1="37.2" y1="319.5" x2="40.5" y2="319.5" stroke="#333333" stroke-width="1"/><text transform="translate(34.2,321.75) rotate(0.05) scale(1,1.12)" font-size="7.8" text-anchor="end" fill="#111" class="t">25.0</text><line x1="37.2" y1="285.5" x2="40.5" y2="285.5" stroke="#333333" stroke-width="1"/><text transform="translate(34.2,287.75) rotate(0.05) scale(1,1.12)" font-size="7.8" text-anchor="end" fill="#111" class="t">25.2</text><line x1="37.2" y1="251.5" x2="40.5" y2="251.5" stroke="#333333" stroke-width="1"/><text transform="translate(34.2,253.75) rotate(0.05) scale(1,1.12)" font-size="7.8" text-anchor="end" fill="#111" class="t">25.4</text><line x1="38.7" y1="404.5" x2="40.5" y2="404.5" stroke="#333333" stroke-width="1"/><line x1="38.7" y1="370.5" x2="40.5" y2="370.5" stroke="#333333" stroke-width="1"/><line x1="38.7" y1="336.5" x2="40.5" y2="336.5" stroke="#333333" stroke-width="1"/><line x1="38.7" y1="302.5" x2="40.5" y2="302.5" stroke="#333333" stroke-width="1"/><line x1="38.7" y1="268.5" x2="40.5" y2="268.5" stroke="#333333" stroke-width="1"/><line x1="79.5" y1="421.5" x2="79.5" y2="424.7" stroke="#333333" stroke-width="1"/><text transform="translate(79.1,434) rotate(0.05) scale(1,1.04)" font-size="7.9" text-anchor="middle" fill="#111" class="t">Control</text><line x1="156.5" y1="421.5" x2="156.5" y2="424.7" stroke="#333333" stroke-width="1"/><text transform="translate(156.3,434) rotate(0.05) scale(1,1.04)" font-size="7.9" text-anchor="middle" fill="#111" class="t">PEACl/IPA</text><line x1="233.5" y1="421.5" x2="233.5" y2="424.7" stroke="#333333" stroke-width="1"/><text transform="translate(233.5,434) rotate(0.05) scale(1,1.04)" font-size="7.9" text-anchor="middle" fill="#111" class="t">PEACl/DMSO+IPA</text><rect x="54.6" y="343.5" width="49.1" height="26.5" fill="none" stroke="#1a1a1a" stroke-width="1.0"/><line x1="54.6" y1="358.2" x2="103.7" y2="358.2" stroke="#1a1a1a" stroke-width="1.0"/><line x1="79.1" y1="319.4" x2="79.1" y2="343.5" stroke="#1a1a1a" stroke-width="1.0"/><line x1="79.1" y1="370" x2="79.1" y2="392.8" stroke="#1a1a1a" stroke-width="1.0"/><line x1="66.6" y1="319.4" x2="91.6" y2="319.4" stroke="#1a1a1a" stroke-width="1.0"/><line x1="66.6" y1="392.8" x2="91.6" y2="392.8" stroke="#1a1a1a" stroke-width="1.0"/><circle cx="79.1" cy="356.3" r="1.6" fill="#cfcfcf"/><polyline points="79.14,294.3 79.16,296.13 79.18,297.96 79.21,299.79 79.26,301.62 79.33,303.45 79.41,305.28 79.53,307.11 79.68,308.94 79.87,310.77 80.12,312.6 80.43,314.43 80.81,316.26 81.28,318.09 81.85,319.92 82.53,321.75 83.32,323.58 84.24,325.41 85.28,327.24 86.45,329.07 87.73,330.9 89.13,332.73 90.62,334.56 92.18,336.39 93.77,338.22 95.38,340.05 96.95,341.88 98.44,343.71 99.82,345.54 101.04,347.37 102.07,349.2 102.86,351.03 103.41,352.86 103.67,354.69 103.66,356.52 103.36,358.35 102.79,360.18 101.96,362.01 100.91,363.84 99.67,365.67 98.28,367.5 96.77,369.33 95.19,371.16 93.59,372.99 92,374.82 90.45,376.65 88.97,378.48 87.58,380.31 86.31,382.14 85.15,383.97 84.12,385.8 83.22,387.63 82.44,389.46 81.78,391.29 81.23,393.12 80.77,394.95 80.39,396.78 80.09,398.61 79.85,400.44 79.66,402.27 79.51,404.1" fill="none" stroke="#1a1a1a" stroke-width="1"/><path d="M81.9 318L83.6 319.7L81.9 321.4L80.2 319.7Z" fill="#1a1a1a"/><circle cx="81.9" cy="319.7" r="1.15" fill="#1a1a1a"/><path d="M69.7 324.6L71.4 326.3L69.7 328L68 326.3Z" fill="#1a1a1a"/><circle cx="69.7" cy="326.3" r="1.15" fill="#1a1a1a"/><path d="M88.3 326.6L90 328.3L88.3 330L86.6 328.3Z" fill="#1a1a1a"/><circle cx="88.3" cy="328.3" r="1.15" fill="#1a1a1a"/><path d="M75.9 333.4L77.6 335.1L75.9 336.8L74.2 335.1Z" fill="#1a1a1a"/><circle cx="75.9" cy="335.1" r="1.15" fill="#1a1a1a"/><path d="M75.9 335.1L77.6 336.8L75.9 338.5L74.2 336.8Z" fill="#1a1a1a"/><circle cx="75.9" cy="336.8" r="1.15" fill="#1a1a1a"/><path d="M88.3 336.6L90 338.3L88.3 340L86.6 338.3Z" fill="#1a1a1a"/><circle cx="88.3" cy="338.3" r="1.15" fill="#1a1a1a"/><path d="M63.6 346.6L65.3 348.3L63.6 350L61.9 348.3Z" fill="#1a1a1a"/><circle cx="63.6" cy="348.3" r="1.15" fill="#1a1a1a"/><path d="M69.9 350.3L71.6 352L69.9 353.7L68.2 352Z" fill="#1a1a1a"/><circle cx="69.9" cy="352" r="1.15" fill="#1a1a1a"/><path d="M82.3 349.7L84 351.4L82.3 353.1L80.6 351.4Z" fill="#1a1a1a"/><circle cx="82.3" cy="351.4" r="1.15" fill="#1a1a1a"/><path d="M94.5 351.2L96.2 352.9L94.5 354.6L92.8 352.9Z" fill="#1a1a1a"/><circle cx="94.5" cy="352.9" r="1.15" fill="#1a1a1a"/><path d="M82.3 353.6L84 355.3L82.3 357L80.6 355.3Z" fill="#1a1a1a"/><circle cx="82.3" cy="355.3" r="1.15" fill="#1a1a1a"/><path d="M57.5 356.7L59.2 358.4L57.5 360.1L55.8 358.4Z" fill="#1a1a1a"/><circle cx="57.5" cy="358.4" r="1.15" fill="#1a1a1a"/><path d="M63.6 356.1L65.3 357.8L63.6 359.5L61.9 357.8Z" fill="#1a1a1a"/><circle cx="63.6" cy="357.8" r="1.15" fill="#1a1a1a"/><path d="M69.9 359.3L71.6 361L69.9 362.7L68.2 361Z" fill="#1a1a1a"/><circle cx="69.9" cy="361" r="1.15" fill="#1a1a1a"/><path d="M94.5 359L96.2 360.7L94.5 362.4L92.8 360.7Z" fill="#1a1a1a"/><circle cx="94.5" cy="360.7" r="1.15" fill="#1a1a1a"/><path d="M66.5 369.6L68.2 371.3L66.5 373L64.8 371.3Z" fill="#1a1a1a"/><circle cx="66.5" cy="371.3" r="1.15" fill="#1a1a1a"/><path d="M75.9 367.3L77.6 369L75.9 370.7L74.2 369Z" fill="#1a1a1a"/><circle cx="75.9" cy="369" r="1.15" fill="#1a1a1a"/><path d="M88.3 367.3L90 369L88.3 370.7L86.6 369Z" fill="#1a1a1a"/><circle cx="88.3" cy="369" r="1.15" fill="#1a1a1a"/><path d="M100.5 366.1L102.2 367.8L100.5 369.5L98.8 367.8Z" fill="#1a1a1a"/><circle cx="100.5" cy="367.8" r="1.15" fill="#1a1a1a"/><path d="M85.2 371.7L86.9 373.4L85.2 375.1L83.5 373.4Z" fill="#1a1a1a"/><circle cx="85.2" cy="373.4" r="1.15" fill="#1a1a1a"/><path d="M91.2 374.8L92.9 376.5L91.2 378.2L89.5 376.5Z" fill="#1a1a1a"/><circle cx="91.2" cy="376.5" r="1.15" fill="#1a1a1a"/><path d="M72.8 382L74.5 383.7L72.8 385.4L71.1 383.7Z" fill="#1a1a1a"/><circle cx="72.8" cy="383.7" r="1.15" fill="#1a1a1a"/><path d="M79.2 382L80.9 383.7L79.2 385.4L77.5 383.7Z" fill="#1a1a1a"/><circle cx="79.2" cy="383.7" r="1.15" fill="#1a1a1a"/><path d="M79.2 391.1L80.9 392.8L79.2 394.5L77.5 392.8Z" fill="#1a1a1a"/><circle cx="79.2" cy="392.8" r="1.15" fill="#1a1a1a"/><rect x="131.6" y="338.3" width="49.4" height="33.8" fill="none" stroke="#ff8000" stroke-width="1.0"/><line x1="131.6" y1="356.4" x2="181" y2="356.4" stroke="#ff8000" stroke-width="1.0"/><line x1="156.3" y1="319.9" x2="156.3" y2="338.3" stroke="#ff8000" stroke-width="1.0"/><line x1="156.3" y1="372.1" x2="156.3" y2="389.4" stroke="#ff8000" stroke-width="1.0"/><line x1="144" y1="319.9" x2="168.5" y2="319.9" stroke="#ff8000" stroke-width="1.0"/><line x1="144" y1="389.4" x2="168.5" y2="389.4" stroke="#ff8000" stroke-width="1.0"/><circle cx="156.3" cy="355.2" r="1.4" fill="none" stroke="#ff8000" stroke-width="0.6" opacity="0.35"/><polyline points="156.44,290.7 156.49,292.59 156.55,294.49 156.64,296.38 156.74,298.28 156.88,300.18 157.04,302.07 157.25,303.96 157.51,305.86 157.82,307.75 158.19,309.65 158.63,311.54 159.15,313.44 159.76,315.33 160.45,317.23 161.24,319.12 162.13,321.02 163.12,322.91 164.21,324.81 165.38,326.7 166.64,328.6 167.96,330.5 169.34,332.39 170.75,334.28 172.16,336.18 173.57,338.07 174.92,339.97 176.21,341.87 177.39,343.76 178.45,345.65 179.34,347.55 180.07,349.44 180.59,351.34 180.9,353.23 181,355.13 180.87,357.02 180.53,358.92 179.98,360.81 179.23,362.71 178.31,364.6 177.24,366.5 176.04,368.39 174.74,370.29 173.38,372.18 171.97,374.08 170.55,375.97 169.15,377.87 167.78,379.76 166.46,381.66 165.21,383.55 164.05,385.45 162.98,387.34 162,389.24 161.13,391.13 160.35,393.03 159.67,394.92 159.08,396.82 158.57,398.71 158.13,400.61 157.77,402.5 157.47,404.4" fill="none" stroke="#ff8000" stroke-width="1"/><path d="M167.1 318.2L168.8 319.9L167.1 321.6L165.4 319.9Z" fill="#ff8000"/><circle cx="167.1" cy="319.9" r="1.15" fill="#ff8000"/><path d="M145.5 327.5L147.2 329.2L145.5 330.9L143.8 329.2Z" fill="#ff8000"/><circle cx="145.5" cy="329.2" r="1.15" fill="#ff8000"/><path d="M152.9 329.8L154.6 331.5L152.9 333.2L151.2 331.5Z" fill="#ff8000"/><circle cx="152.9" cy="331.5" r="1.15" fill="#ff8000"/><path d="M159.8 326.4L161.5 328.1L159.8 329.8L158.1 328.1Z" fill="#ff8000"/><circle cx="159.8" cy="328.1" r="1.15" fill="#ff8000"/><path d="M135.1 335.1L136.8 336.8L135.1 338.5L133.4 336.8Z" fill="#ff8000"/><circle cx="135.1" cy="336.8" r="1.15" fill="#ff8000"/><path d="M156.3 337.2L158 338.9L156.3 340.6L154.6 338.9Z" fill="#ff8000"/><circle cx="156.3" cy="338.9" r="1.15" fill="#ff8000"/><path d="M170.5 335.4L172.2 337.1L170.5 338.8L168.8 337.1Z" fill="#ff8000"/><circle cx="170.5" cy="337.1" r="1.15" fill="#ff8000"/><path d="M142.3 350.8L144 352.5L142.3 354.2L140.6 352.5Z" fill="#ff8000"/><circle cx="142.3" cy="352.5" r="1.15" fill="#ff8000"/><path d="M149.4 349.6L151.1 351.3L149.4 353L147.7 351.3Z" fill="#ff8000"/><circle cx="149.4" cy="351.3" r="1.15" fill="#ff8000"/><path d="M163.6 347.6L165.3 349.3L163.6 351L161.9 349.3Z" fill="#ff8000"/><circle cx="163.6" cy="349.3" r="1.15" fill="#ff8000"/><path d="M177.5 351.1L179.2 352.8L177.5 354.5L175.8 352.8Z" fill="#ff8000"/><circle cx="177.5" cy="352.8" r="1.15" fill="#ff8000"/><path d="M177.5 354L179.2 355.7L177.5 357.4L175.8 355.7Z" fill="#ff8000"/><circle cx="177.5" cy="355.7" r="1.15" fill="#ff8000"/><path d="M149.4 356.1L151.1 357.8L149.4 359.5L147.7 357.8Z" fill="#ff8000"/><circle cx="149.4" cy="357.8" r="1.15" fill="#ff8000"/><path d="M163.6 356.6L165.3 358.3L163.6 360L161.9 358.3Z" fill="#ff8000"/><circle cx="163.6" cy="358.3" r="1.15" fill="#ff8000"/><path d="M156.3 357.8L158 359.5L156.3 361.2L154.6 359.5Z" fill="#ff8000"/><circle cx="156.3" cy="359.5" r="1.15" fill="#ff8000"/><path d="M135.1 360.5L136.8 362.2L135.1 363.9L133.4 362.2Z" fill="#ff8000"/><circle cx="135.1" cy="362.2" r="1.15" fill="#ff8000"/><path d="M142.3 359.6L144 361.3L142.3 363L140.6 361.3Z" fill="#ff8000"/><circle cx="142.3" cy="361.3" r="1.15" fill="#ff8000"/><path d="M170.5 366.7L172.2 368.4L170.5 370.1L168.8 368.4Z" fill="#ff8000"/><circle cx="170.5" cy="368.4" r="1.15" fill="#ff8000"/><path d="M156.3 374.1L158 375.8L156.3 377.5L154.6 375.8Z" fill="#ff8000"/><circle cx="156.3" cy="375.8" r="1.15" fill="#ff8000"/><path d="M142.3 376.2L144 377.9L142.3 379.6L140.6 377.9Z" fill="#ff8000"/><circle cx="142.3" cy="377.9" r="1.15" fill="#ff8000"/><path d="M149.4 380.1L151.1 381.8L149.4 383.5L147.7 381.8Z" fill="#ff8000"/><circle cx="149.4" cy="381.8" r="1.15" fill="#ff8000"/><path d="M163.6 383.8L165.3 385.5L163.6 387.2L161.9 385.5Z" fill="#ff8000"/><circle cx="163.6" cy="385.5" r="1.15" fill="#ff8000"/><path d="M170.5 384.6L172.2 386.3L170.5 388L168.8 386.3Z" fill="#ff8000"/><circle cx="170.5" cy="386.3" r="1.15" fill="#ff8000"/><path d="M156.3 387.9L158 389.6L156.3 391.3L154.6 389.6Z" fill="#ff8000"/><circle cx="156.3" cy="389.6" r="1.15" fill="#ff8000"/><rect x="208.9" y="290.1" width="49.5" height="22.8" fill="none" stroke="#ff0000" stroke-width="1.0"/><line x1="208.9" y1="300.4" x2="258.4" y2="300.4" stroke="#ff0000" stroke-width="1.0"/><line x1="233.5" y1="275.3" x2="233.5" y2="290.1" stroke="#ff0000" stroke-width="1.0"/><line x1="233.5" y1="312.9" x2="233.5" y2="328.3" stroke="#ff0000" stroke-width="1.0"/><line x1="221" y1="275.3" x2="245.8" y2="275.3" stroke="#ff0000" stroke-width="1.0"/><line x1="221" y1="328.3" x2="245.8" y2="328.3" stroke="#ff0000" stroke-width="1.0"/><circle cx="233.5" cy="300" r="1.4" fill="none" stroke="#ff0000" stroke-width="0.6" opacity="0.35"/><polyline points="233.64,251.6 233.7,253.23 233.77,254.86 233.88,256.49 234.01,258.11 234.18,259.74 234.41,261.37 234.69,263 235.04,264.63 235.47,266.25 235.99,267.88 236.62,269.51 237.35,271.14 238.21,272.77 239.2,274.4 240.31,276.02 241.55,277.65 242.9,279.28 244.35,280.91 245.89,282.54 247.48,284.17 249.09,285.8 250.7,287.42 252.25,289.05 253.71,290.68 255.03,292.31 256.18,293.94 257.12,295.56 257.82,297.19 258.25,298.82 258.4,300.45 258.27,302.08 257.85,303.71 257.17,305.33 256.25,306.96 255.11,308.59 253.8,310.22 252.34,311.85 250.8,313.48 249.19,315.11 247.58,316.73 245.98,318.36 244.44,319.99 242.98,321.62 241.63,323.25 240.38,324.88 239.26,326.5 238.27,328.13 237.4,329.76 236.66,331.39 236.03,333.02 235.5,334.64 235.06,336.27 234.71,337.9 234.42,339.53 234.2,341.16 234.02,342.79 233.88,344.42 233.78,346.04 233.7,347.67 233.64,349.3" fill="none" stroke="#ff0000" stroke-width="1"/><path d="M231 275.1L232.7 276.8L231 278.5L229.3 276.8Z" fill="#ff0000"/><circle cx="231" cy="276.8" r="1.15" fill="#ff0000"/><path d="M235.9 273.6L237.6 275.3L235.9 277L234.2 275.3Z" fill="#ff0000"/><circle cx="235.9" cy="275.3" r="1.15" fill="#ff0000"/><path d="M226 279.3L227.7 281L226 282.7L224.3 281Z" fill="#ff0000"/><circle cx="226" cy="281" r="1.15" fill="#ff0000"/><path d="M240.9 279.3L242.6 281L240.9 282.7L239.2 281Z" fill="#ff0000"/><circle cx="240.9" cy="281" r="1.15" fill="#ff0000"/><path d="M245.8 284.6L247.5 286.3L245.8 288L244.1 286.3Z" fill="#ff0000"/><circle cx="245.8" cy="286.3" r="1.15" fill="#ff0000"/><path d="M231 285.9L232.7 287.6L231 289.3L229.3 287.6Z" fill="#ff0000"/><circle cx="231" cy="287.6" r="1.15" fill="#ff0000"/><path d="M240.9 291L242.6 292.7L240.9 294.4L239.2 292.7Z" fill="#ff0000"/><circle cx="240.9" cy="292.7" r="1.15" fill="#ff0000"/><path d="M255.7 291.3L257.4 293L255.7 294.7L254 293Z" fill="#ff0000"/><circle cx="255.7" cy="293" r="1.15" fill="#ff0000"/><path d="M211.5 293.3L213.2 295L211.5 296.7L209.8 295Z" fill="#ff0000"/><circle cx="211.5" cy="295" r="1.15" fill="#ff0000"/><path d="M226 293.9L227.7 295.6L226 297.3L224.3 295.6Z" fill="#ff0000"/><circle cx="226" cy="295.6" r="1.15" fill="#ff0000"/><path d="M235.9 295.6L237.6 297.3L235.9 299L234.2 297.3Z" fill="#ff0000"/><circle cx="235.9" cy="297.3" r="1.15" fill="#ff0000"/><path d="M251 297.4L252.7 299.1L251 300.8L249.3 299.1Z" fill="#ff0000"/><circle cx="251" cy="299.1" r="1.15" fill="#ff0000"/><path d="M216.1 300.9L217.8 302.6L216.1 304.3L214.4 302.6Z" fill="#ff0000"/><circle cx="216.1" cy="302.6" r="1.15" fill="#ff0000"/><path d="M221.4 300.1L223.1 301.8L221.4 303.5L219.7 301.8Z" fill="#ff0000"/><circle cx="221.4" cy="301.8" r="1.15" fill="#ff0000"/><path d="M233.6 302.2L235.3 303.9L233.6 305.6L231.9 303.9Z" fill="#ff0000"/><circle cx="233.6" cy="303.9" r="1.15" fill="#ff0000"/><path d="M248.5 304.9L250.2 306.6L248.5 308.3L246.8 306.6Z" fill="#ff0000"/><circle cx="248.5" cy="306.6" r="1.15" fill="#ff0000"/><path d="M218.7 311.1L220.4 312.8L218.7 314.5L217 312.8Z" fill="#ff0000"/><circle cx="218.7" cy="312.8" r="1.15" fill="#ff0000"/><path d="M223.7 309.4L225.4 311.1L223.7 312.8L222 311.1Z" fill="#ff0000"/><circle cx="223.7" cy="311.1" r="1.15" fill="#ff0000"/><path d="M228.6 312.6L230.3 314.3L228.6 316L226.9 314.3Z" fill="#ff0000"/><circle cx="228.6" cy="314.3" r="1.15" fill="#ff0000"/><path d="M238.5 311.5L240.2 313.2L238.5 314.9L236.8 313.2Z" fill="#ff0000"/><circle cx="238.5" cy="313.2" r="1.15" fill="#ff0000"/><path d="M243.5 315.4L245.2 317.1L243.5 318.8L241.8 317.1Z" fill="#ff0000"/><circle cx="243.5" cy="317.1" r="1.15" fill="#ff0000"/><path d="M233.6 321L235.3 322.7L233.6 324.4L231.9 322.7Z" fill="#ff0000"/><circle cx="233.6" cy="322.7" r="1.15" fill="#ff0000"/><path d="M238.5 319.8L240.2 321.5L238.5 323.2L236.8 321.5Z" fill="#ff0000"/><circle cx="238.5" cy="321.5" r="1.15" fill="#ff0000"/><path d="M228.6 326.6L230.3 328.3L228.6 330L226.9 328.3Z" fill="#ff0000"/><circle cx="228.6" cy="328.3" r="1.15" fill="#ff0000"/><rect x="40.5" y="234.8" width="232" height="186.7" fill="none" stroke="#333333" stroke-width="1.1"/></g>
<g><text x="296" y="238.2" font-size="19.3" fill="#000" stroke="#000" stroke-width="0.15">d</text><text transform="translate(289.6,327.9) rotate(-90)" text-anchor="middle" font-size="9.9" fill="#111" class="t">PCE (%)</text><line x1="312.2" y1="405.5" x2="315.5" y2="405.5" stroke="#333333" stroke-width="1"/><text transform="translate(309.2,407.75) rotate(0.05) scale(1,1.12)" font-size="7.8" text-anchor="end" fill="#111" class="t">22.0</text><line x1="312.2" y1="373.5" x2="315.5" y2="373.5" stroke="#333333" stroke-width="1"/><text transform="translate(309.2,376.15) rotate(0.05) scale(1,1.12)" font-size="7.8" text-anchor="end" fill="#111" class="t">22.5</text><line x1="312.2" y1="342.5" x2="315.5" y2="342.5" stroke="#333333" stroke-width="1"/><text transform="translate(309.2,344.55) rotate(0.05) scale(1,1.12)" font-size="7.8" text-anchor="end" fill="#111" class="t">23.0</text><line x1="312.2" y1="310.5" x2="315.5" y2="310.5" stroke="#333333" stroke-width="1"/><text transform="translate(309.2,312.95) rotate(0.05) scale(1,1.12)" font-size="7.8" text-anchor="end" fill="#111" class="t">23.5</text><line x1="312.2" y1="279.5" x2="315.5" y2="279.5" stroke="#333333" stroke-width="1"/><text transform="translate(309.2,281.35) rotate(0.05) scale(1,1.12)" font-size="7.8" text-anchor="end" fill="#111" class="t">24.0</text><line x1="312.2" y1="247.5" x2="315.5" y2="247.5" stroke="#333333" stroke-width="1"/><text transform="translate(309.2,249.75) rotate(0.05) scale(1,1.12)" font-size="7.8" text-anchor="end" fill="#111" class="t">24.5</text><line x1="313.7" y1="389.5" x2="315.5" y2="389.5" stroke="#333333" stroke-width="1"/><line x1="313.7" y1="358.5" x2="315.5" y2="358.5" stroke="#333333" stroke-width="1"/><line x1="313.7" y1="326.5" x2="315.5" y2="326.5" stroke="#333333" stroke-width="1"/><line x1="313.7" y1="294.5" x2="315.5" y2="294.5" stroke="#333333" stroke-width="1"/><line x1="313.7" y1="263.5" x2="315.5" y2="263.5" stroke="#333333" stroke-width="1"/><line x1="354.5" y1="421.5" x2="354.5" y2="424.7" stroke="#333333" stroke-width="1"/><text transform="translate(354,434) rotate(0.05) scale(1,1.04)" font-size="7.9" text-anchor="middle" fill="#111" class="t">Control</text><line x1="431.5" y1="421.5" x2="431.5" y2="424.7" stroke="#333333" stroke-width="1"/><text transform="translate(431.3,434) rotate(0.05) scale(1,1.04)" font-size="7.9" text-anchor="middle" fill="#111" class="t">PEACl/IPA</text><line x1="508.5" y1="421.5" x2="508.5" y2="424.7" stroke="#333333" stroke-width="1"/><text transform="translate(508.6,434) rotate(0.05) scale(1,1.04)" font-size="7.9" text-anchor="middle" fill="#111" class="t">PEACl/DMSO+IPA</text><rect x="329.3" y="362.9" width="49.7" height="23" fill="none" stroke="#1a1a1a" stroke-width="1.0"/><line x1="329.3" y1="374.2" x2="379" y2="374.2" stroke="#1a1a1a" stroke-width="1.0"/><line x1="354" y1="351.6" x2="354" y2="362.9" stroke="#1a1a1a" stroke-width="1.0"/><line x1="354" y1="385.9" x2="354" y2="400.4" stroke="#1a1a1a" stroke-width="1.0"/><line x1="341.8" y1="351.6" x2="366.6" y2="351.6" stroke="#1a1a1a" stroke-width="1.0"/><line x1="341.8" y1="400.4" x2="366.6" y2="400.4" stroke="#1a1a1a" stroke-width="1.0"/><circle cx="354" cy="374" r="1.6" fill="#cfcfcf"/><polyline points="354.07,329.3 354.1,330.56 354.14,331.82 354.19,333.09 354.26,334.35 354.35,335.61 354.47,336.87 354.61,338.13 354.8,339.39 355.03,340.66 355.31,341.92 355.66,343.18 356.07,344.44 356.57,345.7 357.16,346.96 357.84,348.23 358.63,349.49 359.52,350.75 360.52,352.01 361.62,353.27 362.83,354.53 364.13,355.8 365.51,357.06 366.95,358.32 368.43,359.58 369.92,360.84 371.4,362.1 372.83,363.37 374.18,364.63 375.42,365.89 376.52,367.15 377.44,368.41 378.17,369.67 378.68,370.94 378.95,372.2 378.98,373.46 378.78,374.72 378.33,375.98 377.66,377.24 376.79,378.5 375.74,379.77 374.54,381.03 373.21,382.29 371.8,383.55 370.33,384.81 368.84,386.07 367.35,387.34 365.9,388.6 364.5,389.86 363.18,391.12 361.94,392.38 360.81,393.64 359.78,394.91 358.86,396.17 358.05,397.43 357.34,398.69 356.72,399.95 356.2,401.22 355.76,402.48 355.4,403.74 355.1,405" fill="none" stroke="#1a1a1a" stroke-width="1"/><path d="M350.9 349.9L352.6 351.6L350.9 353.3L349.2 351.6Z" fill="#1a1a1a"/><circle cx="350.9" cy="351.6" r="1.15" fill="#1a1a1a"/><path d="M356.9 349.9L358.6 351.6L356.9 353.3L355.2 351.6Z" fill="#1a1a1a"/><circle cx="356.9" cy="351.6" r="1.15" fill="#1a1a1a"/><path d="M347.8 353.8L349.5 355.5L347.8 357.2L346.1 355.5Z" fill="#1a1a1a"/><circle cx="347.8" cy="355.5" r="1.15" fill="#1a1a1a"/><path d="M360.2 356.1L361.9 357.8L360.2 359.5L358.5 357.8Z" fill="#1a1a1a"/><circle cx="360.2" cy="357.8" r="1.15" fill="#1a1a1a"/><path d="M341.8 360.4L343.5 362.1L341.8 363.8L340.1 362.1Z" fill="#1a1a1a"/><circle cx="341.8" cy="362.1" r="1.15" fill="#1a1a1a"/><path d="M354 361.3L355.7 363L354 364.7L352.3 363Z" fill="#1a1a1a"/><circle cx="354" cy="363" r="1.15" fill="#1a1a1a"/><path d="M372.6 360.2L374.3 361.9L372.6 363.6L370.9 361.9Z" fill="#1a1a1a"/><circle cx="372.6" cy="361.9" r="1.15" fill="#1a1a1a"/><path d="M335.7 364.7L337.4 366.4L335.7 368.1L334 366.4Z" fill="#1a1a1a"/><circle cx="335.7" cy="366.4" r="1.15" fill="#1a1a1a"/><path d="M366.2 363.5L367.9 365.2L366.2 366.9L364.5 365.2Z" fill="#1a1a1a"/><circle cx="366.2" cy="365.2" r="1.15" fill="#1a1a1a"/><path d="M363.3 366.7L365 368.4L363.3 370.1L361.6 368.4Z" fill="#1a1a1a"/><circle cx="363.3" cy="368.4" r="1.15" fill="#1a1a1a"/><path d="M350.9 371.3L352.6 373L350.9 374.7L349.2 373Z" fill="#1a1a1a"/><circle cx="350.9" cy="373" r="1.15" fill="#1a1a1a"/><path d="M356.9 372.5L358.6 374.2L356.9 375.9L355.2 374.2Z" fill="#1a1a1a"/><circle cx="356.9" cy="374.2" r="1.15" fill="#1a1a1a"/><path d="M369.5 372.8L371.2 374.5L369.5 376.2L367.8 374.5Z" fill="#1a1a1a"/><circle cx="369.5" cy="374.5" r="1.15" fill="#1a1a1a"/><path d="M344.9 376.8L346.6 378.5L344.9 380.2L343.2 378.5Z" fill="#1a1a1a"/><circle cx="344.9" cy="378.5" r="1.15" fill="#1a1a1a"/><path d="M338.6 378L340.3 379.7L338.6 381.4L336.9 379.7Z" fill="#1a1a1a"/><circle cx="338.6" cy="379.7" r="1.15" fill="#1a1a1a"/><path d="M338.6 380.1L340.3 381.8L338.6 383.5L336.9 381.8Z" fill="#1a1a1a"/><circle cx="338.6" cy="381.8" r="1.15" fill="#1a1a1a"/><path d="M369.5 380.6L371.2 382.3L369.5 384L367.8 382.3Z" fill="#1a1a1a"/><circle cx="369.5" cy="382.3" r="1.15" fill="#1a1a1a"/><path d="M350.9 383.6L352.6 385.3L350.9 387L349.2 385.3Z" fill="#1a1a1a"/><circle cx="350.9" cy="385.3" r="1.15" fill="#1a1a1a"/><path d="M332.5 388L334.2 389.7L332.5 391.4L330.8 389.7Z" fill="#1a1a1a"/><circle cx="332.5" cy="389.7" r="1.15" fill="#1a1a1a"/><path d="M344.9 387.6L346.6 389.3L344.9 391L343.2 389.3Z" fill="#1a1a1a"/><circle cx="344.9" cy="389.3" r="1.15" fill="#1a1a1a"/><path d="M356.9 387.6L358.6 389.3L356.9 391L355.2 389.3Z" fill="#1a1a1a"/><circle cx="356.9" cy="389.3" r="1.15" fill="#1a1a1a"/><path d="M363.3 389.1L365 390.8L363.3 392.5L361.6 390.8Z" fill="#1a1a1a"/><circle cx="363.3" cy="390.8" r="1.15" fill="#1a1a1a"/><path d="M375.5 385.3L377.2 387L375.5 388.7L373.8 387Z" fill="#1a1a1a"/><circle cx="375.5" cy="387" r="1.15" fill="#1a1a1a"/><path d="M354 398.7L355.7 400.4L354 402.1L352.3 400.4Z" fill="#1a1a1a"/><circle cx="354" cy="400.4" r="1.15" fill="#1a1a1a"/><rect x="406.6" y="326.4" width="49.4" height="23.3" fill="none" stroke="#ff8000" stroke-width="1.0"/><line x1="406.6" y1="336.8" x2="456" y2="336.8" stroke="#ff8000" stroke-width="1.0"/><line x1="431.3" y1="312.9" x2="431.3" y2="326.4" stroke="#ff8000" stroke-width="1.0"/><line x1="431.3" y1="349.7" x2="431.3" y2="362.6" stroke="#ff8000" stroke-width="1.0"/><line x1="418.8" y1="312.9" x2="443.8" y2="312.9" stroke="#ff8000" stroke-width="1.0"/><line x1="418.8" y1="362.6" x2="443.8" y2="362.6" stroke="#ff8000" stroke-width="1.0"/><circle cx="431.3" cy="338.3" r="1.4" fill="none" stroke="#ff8000" stroke-width="0.6" opacity="0.35"/><polyline points="431.51,287.6 431.59,289.28 431.69,290.97 431.82,292.65 431.99,294.33 432.2,296.02 432.47,297.7 432.8,299.38 433.2,301.07 433.69,302.75 434.27,304.43 434.94,306.12 435.73,307.8 436.63,309.48 437.65,311.17 438.78,312.85 440.02,314.53 441.36,316.22 442.78,317.9 444.27,319.58 445.79,321.27 447.33,322.95 448.84,324.63 450.3,326.32 451.66,328 452.88,329.68 453.95,331.37 454.81,333.05 455.45,334.73 455.85,336.42 456,338.1 455.89,339.78 455.51,341.47 454.9,343.15 454.06,344.83 453.02,346.52 451.81,348.2 450.46,349.88 449.02,351.57 447.51,353.25 445.98,354.93 444.45,356.62 442.96,358.3 441.52,359.98 440.17,361.67 438.92,363.35 437.78,365.03 436.75,366.72 435.83,368.4 435.03,370.08 434.34,371.77 433.75,373.45 433.26,375.13 432.84,376.82 432.51,378.5 432.23,380.18 432.01,381.87 431.84,383.55 431.7,385.23 431.6,386.92 431.52,388.6" fill="none" stroke="#ff8000" stroke-width="1"/><path d="M428.1 311.2L429.8 312.9L428.1 314.6L426.4 312.9Z" fill="#ff8000"/><circle cx="428.1" cy="312.9" r="1.15" fill="#ff8000"/><path d="M434.3 312L436 313.7L434.3 315.4L432.6 313.7Z" fill="#ff8000"/><circle cx="434.3" cy="313.7" r="1.15" fill="#ff8000"/><path d="M431.3 315.3L433 317L431.3 318.7L429.6 317Z" fill="#ff8000"/><circle cx="431.3" cy="317" r="1.15" fill="#ff8000"/><path d="M443.8 315.3L445.5 317L443.8 318.7L442.1 317Z" fill="#ff8000"/><circle cx="443.8" cy="317" r="1.15" fill="#ff8000"/><path d="M437.4 321.6L439.1 323.3L437.4 325L435.7 323.3Z" fill="#ff8000"/><circle cx="437.4" cy="323.3" r="1.15" fill="#ff8000"/><path d="M419 324.7L420.7 326.4L419 328.1L417.3 326.4Z" fill="#ff8000"/><circle cx="419" cy="326.4" r="1.15" fill="#ff8000"/><path d="M425.2 324.1L426.9 325.8L425.2 327.5L423.5 325.8Z" fill="#ff8000"/><circle cx="425.2" cy="325.8" r="1.15" fill="#ff8000"/><path d="M415.9 330.8L417.6 332.5L415.9 334.2L414.2 332.5Z" fill="#ff8000"/><circle cx="415.9" cy="332.5" r="1.15" fill="#ff8000"/><path d="M422 328.7L423.7 330.4L422 332.1L420.3 330.4Z" fill="#ff8000"/><circle cx="422" cy="330.4" r="1.15" fill="#ff8000"/><path d="M428.3 331.7L430 333.4L428.3 335.1L426.6 333.4Z" fill="#ff8000"/><circle cx="428.3" cy="333.4" r="1.15" fill="#ff8000"/><path d="M440.7 329.6L442.4 331.3L440.7 333L439 331.3Z" fill="#ff8000"/><circle cx="440.7" cy="331.3" r="1.15" fill="#ff8000"/><path d="M446.7 331.9L448.4 333.6L446.7 335.3L445 333.6Z" fill="#ff8000"/><circle cx="446.7" cy="333.6" r="1.15" fill="#ff8000"/><path d="M409.7 338.1L411.4 339.8L409.7 341.5L408 339.8Z" fill="#ff8000"/><circle cx="409.7" cy="339.8" r="1.15" fill="#ff8000"/><path d="M434.5 339.8L436.2 341.5L434.5 343.2L432.8 341.5Z" fill="#ff8000"/><circle cx="434.5" cy="341.5" r="1.15" fill="#ff8000"/><path d="M452.8 339.8L454.5 341.5L452.8 343.2L451.1 341.5Z" fill="#ff8000"/><circle cx="452.8" cy="341.5" r="1.15" fill="#ff8000"/><path d="M428.3 344.1L430 345.8L428.3 347.5L426.6 345.8Z" fill="#ff8000"/><circle cx="428.3" cy="345.8" r="1.15" fill="#ff8000"/><path d="M434.5 345.6L436.2 347.3L434.5 349L432.8 347.3Z" fill="#ff8000"/><circle cx="434.5" cy="347.3" r="1.15" fill="#ff8000"/><path d="M440.7 343.6L442.4 345.3L440.7 347L439 345.3Z" fill="#ff8000"/><circle cx="440.7" cy="345.3" r="1.15" fill="#ff8000"/><path d="M422 350.5L423.7 352.2L422 353.9L420.3 352.2Z" fill="#ff8000"/><circle cx="422" cy="352.2" r="1.15" fill="#ff8000"/><path d="M419 356.6L420.7 358.3L419 360L417.3 358.3Z" fill="#ff8000"/><circle cx="419" cy="358.3" r="1.15" fill="#ff8000"/><path d="M425.2 356.9L426.9 358.6L425.2 360.3L423.5 358.6Z" fill="#ff8000"/><circle cx="425.2" cy="358.6" r="1.15" fill="#ff8000"/><path d="M443.2 354.6L444.9 356.3L443.2 358L441.5 356.3Z" fill="#ff8000"/><circle cx="443.2" cy="356.3" r="1.15" fill="#ff8000"/><path d="M437.4 358.4L439.1 360.1L437.4 361.8L435.7 360.1Z" fill="#ff8000"/><circle cx="437.4" cy="360.1" r="1.15" fill="#ff8000"/><path d="M431.3 361L433 362.7L431.3 364.4L429.6 362.7Z" fill="#ff8000"/><circle cx="431.3" cy="362.7" r="1.15" fill="#ff8000"/><rect x="483.9" y="275.2" width="49.5" height="20.4" fill="none" stroke="#ff0000" stroke-width="1.0"/><line x1="483.9" y1="284.8" x2="533.4" y2="284.8" stroke="#ff0000" stroke-width="1.0"/><line x1="508.6" y1="261.3" x2="508.6" y2="275.2" stroke="#ff0000" stroke-width="1.0"/><line x1="508.6" y1="295.6" x2="508.6" y2="304.2" stroke="#ff0000" stroke-width="1.0"/><line x1="496.2" y1="261.3" x2="520.8" y2="261.3" stroke="#ff0000" stroke-width="1.0"/><line x1="496.2" y1="304.2" x2="520.8" y2="304.2" stroke="#ff0000" stroke-width="1.0"/><circle cx="508.6" cy="284.5" r="1.4" fill="none" stroke="#ff0000" stroke-width="0.6" opacity="0.35"/><polyline points="508.77,243.5 508.83,244.87 508.92,246.24 509.03,247.61 509.18,248.98 509.37,250.35 509.61,251.72 509.91,253.09 510.29,254.46 510.74,255.83 511.29,257.2 511.94,258.57 512.7,259.94 513.58,261.31 514.59,262.68 515.71,264.05 516.95,265.42 518.3,266.79 519.75,268.16 521.27,269.53 522.83,270.9 524.42,272.27 525.98,273.64 527.49,275.01 528.91,276.38 530.19,277.75 531.29,279.12 532.19,280.49 532.86,281.86 533.26,283.23 533.4,284.6 533.26,285.97 532.86,287.34 532.19,288.71 531.29,290.08 530.19,291.45 528.91,292.82 527.49,294.19 525.98,295.56 524.42,296.93 522.83,298.3 521.27,299.67 519.75,301.04 518.3,302.41 516.95,303.78 515.71,305.15 514.59,306.52 513.58,307.89 512.7,309.26 511.94,310.63 511.29,312 510.74,313.37 510.29,314.74 509.91,316.11 509.61,317.48 509.37,318.85 509.18,320.22 509.03,321.59 508.92,322.96 508.83,324.33 508.77,325.7" fill="none" stroke="#ff0000" stroke-width="1"/><path d="M505.4 260.2L507.1 261.9L505.4 263.6L503.7 261.9Z" fill="#ff0000"/><circle cx="505.4" cy="261.9" r="1.15" fill="#ff0000"/><path d="M512.1 259.2L513.8 260.9L512.1 262.6L510.4 260.9Z" fill="#ff0000"/><circle cx="512.1" cy="260.9" r="1.15" fill="#ff0000"/><path d="M505.4 265.3L507.1 267L505.4 268.7L503.7 267Z" fill="#ff0000"/><circle cx="505.4" cy="267" r="1.15" fill="#ff0000"/><path d="M517.9 265.1L519.6 266.8L517.9 268.5L516.2 266.8Z" fill="#ff0000"/><circle cx="517.9" cy="266.8" r="1.15" fill="#ff0000"/><path d="M493.2 271.1L494.9 272.8L493.2 274.5L491.5 272.8Z" fill="#ff0000"/><circle cx="493.2" cy="272.8" r="1.15" fill="#ff0000"/><path d="M511.7 272L513.4 273.7L511.7 275.4L510 273.7Z" fill="#ff0000"/><circle cx="511.7" cy="273.7" r="1.15" fill="#ff0000"/><path d="M499.3 276.9L501 278.6L499.3 280.3L497.6 278.6Z" fill="#ff0000"/><circle cx="499.3" cy="278.6" r="1.15" fill="#ff0000"/><path d="M524.1 275L525.8 276.7L524.1 278.4L522.4 276.7Z" fill="#ff0000"/><circle cx="524.1" cy="276.7" r="1.15" fill="#ff0000"/><path d="M530.1 279L531.8 280.7L530.1 282.4L528.4 280.7Z" fill="#ff0000"/><circle cx="530.1" cy="280.7" r="1.15" fill="#ff0000"/><path d="M487.1 281.4L488.8 283.1L487.1 284.8L485.4 283.1Z" fill="#ff0000"/><circle cx="487.1" cy="283.1" r="1.15" fill="#ff0000"/><path d="M505.4 280.8L507.1 282.5L505.4 284.2L503.7 282.5Z" fill="#ff0000"/><circle cx="505.4" cy="282.5" r="1.15" fill="#ff0000"/><path d="M524.1 280.4L525.8 282.1L524.1 283.8L522.4 282.1Z" fill="#ff0000"/><circle cx="524.1" cy="282.1" r="1.15" fill="#ff0000"/><path d="M499.3 284.6L501 286.3L499.3 288L497.6 286.3Z" fill="#ff0000"/><circle cx="499.3" cy="286.3" r="1.15" fill="#ff0000"/><path d="M511.7 284.4L513.4 286.1L511.7 287.8L510 286.1Z" fill="#ff0000"/><circle cx="511.7" cy="286.1" r="1.15" fill="#ff0000"/><path d="M493.2 288.3L494.9 290L493.2 291.7L491.5 290Z" fill="#ff0000"/><circle cx="493.2" cy="290" r="1.15" fill="#ff0000"/><path d="M505.4 291L507.1 292.7L505.4 294.4L503.7 292.7Z" fill="#ff0000"/><circle cx="505.4" cy="292.7" r="1.15" fill="#ff0000"/><path d="M517.9 289.6L519.6 291.3L517.9 293L516.2 291.3Z" fill="#ff0000"/><circle cx="517.9" cy="291.3" r="1.15" fill="#ff0000"/><path d="M511.7 293.3L513.4 295L511.7 296.7L510 295Z" fill="#ff0000"/><circle cx="511.7" cy="295" r="1.15" fill="#ff0000"/><path d="M487.1 295.6L488.8 297.3L487.1 299L485.4 297.3Z" fill="#ff0000"/><circle cx="487.1" cy="297.3" r="1.15" fill="#ff0000"/><path d="M493.2 295.1L494.9 296.8L493.2 298.5L491.5 296.8Z" fill="#ff0000"/><circle cx="493.2" cy="296.8" r="1.15" fill="#ff0000"/><path d="M517.9 296.2L519.6 297.9L517.9 299.6L516.2 297.9Z" fill="#ff0000"/><circle cx="517.9" cy="297.9" r="1.15" fill="#ff0000"/><path d="M524.1 299.7L525.8 301.4L524.1 303.1L522.4 301.4Z" fill="#ff0000"/><circle cx="524.1" cy="301.4" r="1.15" fill="#ff0000"/><path d="M530.1 297.6L531.8 299.3L530.1 301L528.4 299.3Z" fill="#ff0000"/><circle cx="530.1" cy="299.3" r="1.15" fill="#ff0000"/><path d="M499.3 302.6L501 304.3L499.3 306L497.6 304.3Z" fill="#ff0000"/><circle cx="499.3" cy="304.3" r="1.15" fill="#ff0000"/><rect x="315.5" y="234.8" width="232" height="186.7" fill="none" stroke="#333333" stroke-width="1.1"/></g>
</svg></body></html>
